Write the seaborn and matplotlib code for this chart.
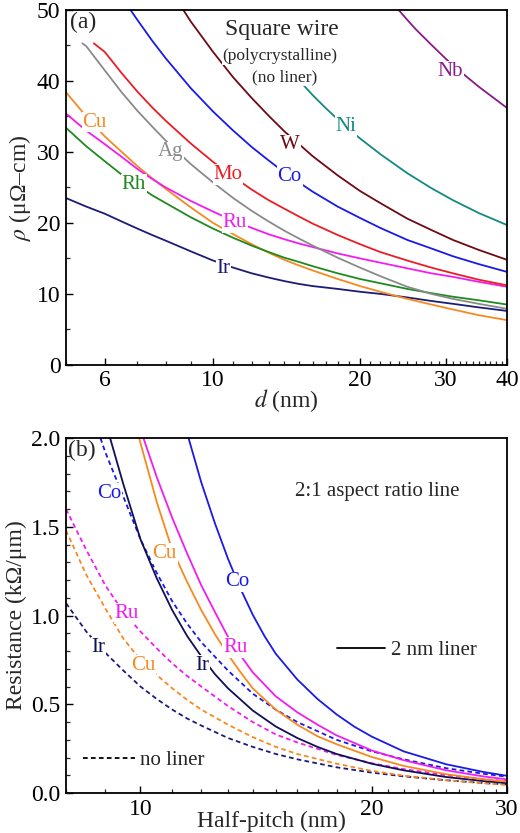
import matplotlib
matplotlib.use('Agg')

import numpy as np
import pandas as pd
import matplotlib.pyplot as plt
import seaborn as sns
from matplotlib.ticker import FixedLocator, MultipleLocator, NullFormatter, FixedFormatter, FormatStrFormatter
from matplotlib.lines import Line2D

sns.set_theme(style="ticks")
plt.rcParams['font.family'] = ['Liberation Serif', 'DejaVu Serif']
plt.rcParams['mathtext.fontset'] = 'stix'
plt.rcParams['xtick.direction'] = 'in'
plt.rcParams['ytick.direction'] = 'in'

# ─────────────────────────────────────────
# (a) 비저항 vs 선폭 d (no liner)
# ─────────────────────────────────────────
d_a = [5, 5.5, 6, 6.5, 7, 7.5, 8, 9, 10, 11, 12, 13, 14, 15, 16, 18, 20, 22, 25, 28, 31, 35, 40]
rho_ir = [23.5, 22.3, 21.3, 20.2, 19.2, 18.3, 17.5, 16.0, 14.7, 13.7, 12.9, 12.3, 11.8, 11.4, 11.1,
          10.7, 10.3, 10.0, 9.5, 9.0, 8.6, 8.1, 7.6]
rho_cu = [38.4, 35.0, 32.2, 30.0, 28.0, 26.3, 24.8, 22.2, 20.0, 18.4, 17.0, 15.8, 14.8, 14.0, 13.3,
          12.1, 11.1, 10.3, 9.3, 8.5, 7.8, 7.0, 6.3]
rho_rh = [33.4, 30.8, 28.7, 26.8, 25.3, 23.9, 22.8, 20.8, 19.2, 17.9, 16.8, 15.9, 15.1, 14.5, 13.9,
          12.9, 12.1, 11.5, 10.7, 10.1, 9.6, 9.1, 8.5]
rho_ru = [35.4, 33.0, 31.1, 29.3, 27.6, 26.2, 25.0, 23.1, 21.6, 20.3, 19.3, 18.4, 17.7, 17.1, 16.6,
          15.7, 15.0, 14.4, 13.6, 12.9, 12.4, 11.7, 11.0]

d_ag = [5.4, 5.5, 6, 6.5, 7, 7.5, 8, 9, 10, 11, 12, 13, 14, 15, 16, 18, 20, 22, 25, 28, 31, 35, 40]
rho_ag = [45.3, 44.9, 41.5, 38.4, 35.8, 33.6, 31.6, 28.3, 25.7, 23.5, 21.7, 20.2, 18.9, 17.8, 16.8,
          15.1, 13.7, 12.5, 11.0, 10.0, 9.3, 8.6, 7.9]

d_mo = [5.7, 6, 6.5, 7, 7.5, 8, 9, 10, 11, 12, 13, 14, 15, 16, 18, 20, 22, 25, 28, 31, 35, 40]
rho_mo = [45.3, 44.1, 41.1, 38.5, 36.3, 34.4, 31.2, 28.6, 26.5, 24.7, 23.2, 22.0, 20.9, 19.9, 18.3,
          17.0, 15.9, 14.7, 13.7, 12.9, 12.0, 11.2]

d_co = [6.7, 7, 7.5, 8, 9, 10, 11, 12, 13, 14, 15, 16, 18, 20, 22, 25, 28, 31, 35, 40]
rho_co = [50.5, 48.6, 45.7, 43.2, 39.0, 35.7, 33.0, 30.7, 28.8, 27.1, 25.7, 24.4, 22.3, 20.7, 19.3,
          17.6, 16.4, 15.3, 14.2, 13.1]

d_w = [8.6, 9, 10, 11, 12, 13, 14, 15, 16, 18, 20, 22, 25, 28, 31, 35, 40]
rho_w = [50.5, 48.4, 44.1, 40.5, 37.6, 35.1, 32.9, 31.1, 29.4, 26.7, 24.5, 22.8, 20.6, 19.0, 17.6,
         16.2, 14.8]

d_ni = [15, 16, 17, 18, 20, 22, 25, 28, 31, 35, 40]
rho_ni = [40.1, 38.0, 36.2, 34.6, 31.9, 29.7, 27.0, 24.9, 23.2, 21.4, 19.7]

d_nb = [24, 25, 26, 28, 30, 32, 35, 40]
rho_nb = [50.0, 48.6, 47.3, 45.1, 43.1, 41.4, 39.2, 36.2]

# ─────────────────────────────────────────
# (b) 저항 vs half-pitch (2:1 aspect ratio)
# ─────────────────────────────────────────
hp = [8, 8.5, 9, 9.5, 10, 10.5, 11, 11.5, 12, 13, 14, 15, 16, 18, 20, 22, 25, 28, 30]
r_ir_nl = [1.07, 0.91, 0.79, 0.69, 0.60, 0.53, 0.47, 0.42, 0.38, 0.31, 0.26, 0.22, 0.19, 0.145,
           0.115, 0.094, 0.072, 0.056, 0.048]
r_cu_nl = [1.48, 1.23, 1.04, 0.87, 0.75, 0.665, 0.59, 0.525, 0.47, 0.385, 0.315, 0.26, 0.22, 0.165,
           0.125, 0.098, 0.072, 0.055, 0.046]
r_ru_nl = [1.60, 1.37, 1.17, 1.02, 0.91, 0.815, 0.73, 0.66, 0.60, 0.49, 0.40, 0.33, 0.285, 0.215,
           0.168, 0.135, 0.10, 0.078, 0.067]

hp_co_nl = [8.87, 9, 9.5, 10, 10.5, 11, 11.5, 12, 13, 14, 15, 16, 18, 20, 22, 25, 28, 30]
r_co_nl = [2.0, 1.92, 1.67, 1.43, 1.24, 1.08, 0.955, 0.85, 0.69, 0.56, 0.47, 0.40, 0.30, 0.235, 0.19,
           0.14, 0.108, 0.092]

hp_ir_l = [9.13, 9.5, 10, 10.5, 11, 11.5, 12, 12.5, 13, 14, 15, 16, 17, 18, 20, 22, 25, 28, 30]
r_ir_l = [2.0, 1.74, 1.43, 1.21, 1.03, 0.885, 0.77, 0.67, 0.59, 0.465, 0.375, 0.31, 0.26, 0.22,
          0.165, 0.128, 0.09, 0.067, 0.056]

hp_cu_l = [9.96, 10.5, 11, 11.5, 12, 12.5, 13, 13.5, 14, 15, 16, 17, 18, 20, 22, 25, 28, 30]
r_cu_l = [2.0, 1.64, 1.37, 1.19, 1.03, 0.895, 0.78, 0.68, 0.59, 0.47, 0.385, 0.32, 0.275, 0.203,
          0.153, 0.106, 0.077, 0.064]

hp_ru_l = [10.09, 10.5, 11, 11.5, 12, 12.5, 13, 13.5, 14, 15, 16, 17, 18, 20, 22, 25, 28, 30]
r_ru_l = [2.0, 1.78, 1.55, 1.35, 1.17, 1.02, 0.88, 0.775, 0.68, 0.545, 0.455, 0.385, 0.325, 0.24,
          0.185, 0.128, 0.093, 0.077]

hp_co_l = [11.55, 12, 12.5, 13, 13.5, 14, 14.5, 15, 16, 17, 18, 19, 20, 22, 25, 28, 30]
r_co_l = [2.0, 1.75, 1.52, 1.32, 1.15, 1.005, 0.885, 0.785, 0.64, 0.53, 0.443, 0.373, 0.318, 0.235,
          0.162, 0.118, 0.097]

# 색상
C_IR = '#1c1c78'
C_IR2 = '#101058'
C_CU = '#f7891f'
C_RH = '#1f8a1f'
C_RU = '#f21cf2'
C_AG = '#8a8a8a'
C_MO = '#ec1c24'
C_CO = '#1a1ae6'
C_W = '#6e0a14'
C_NI = '#128a80'
C_NB = '#8a1a8a'

LW = 1.3
DASH = (0, (2.6, 1.8))
LBL = 15
TICK = 17

fig = plt.figure(figsize=(5.2, 8.33), dpi=100)
ax1 = fig.add_axes([0.127, 0.562, 0.848, 0.426])
ax2 = fig.add_axes([0.127, 0.048, 0.848, 0.426])

# ── panel (a) ──
series_a = [
    (d_a, rho_ir, C_IR), (d_a, rho_cu, C_CU), (d_a, rho_rh, C_RH), (d_a, rho_ru, C_RU),
    (d_ag, rho_ag, C_AG), (d_mo, rho_mo, C_MO), (d_co, rho_co, C_CO), (d_w, rho_w, C_W),
    (d_ni, rho_ni, C_NI), (d_nb, rho_nb, C_NB),
]
for xs, ys, c in series_a:
    sns.lineplot(x=xs, y=ys, ax=ax1, color=c, lw=LW, legend=False)

ax1.set_xscale('log')
ax1.set_xlim(5, 40)
ax1.set_ylim(0, 50)

labels_a = [
    ("Cu", 5.72, 34.2, C_CU), ("Ag", 8.17, 30.0, C_AG), ("Rh", 6.88, 25.4, C_RH),
    ("Mo", 10.74, 26.8, C_MO), ("Co", 14.35, 26.6, C_CO), ("Ru", 11.09, 20.1, C_RU),
    ("Ir", 10.5, 13.6, C_IR), ("W", 14.4, 31.0, C_W), ("Ni", 18.74, 33.6, C_NI),
    ("Nb", 30.6, 41.3, C_NB),
]
for txt, x, y, c in labels_a:
    ax1.text(x, y, txt, color=c, fontsize=LBL, ha='center', va='center',
             bbox=dict(facecolor='white', edgecolor='none', pad=0.6))

ax1.text(0.009, 0.995, "(a)", transform=ax1.transAxes, fontsize=17, ha='left', va='top')
ax1.text(0.49, 0.945, "Square wire", transform=ax1.transAxes, fontsize=17,
         ha='center', va='center', bbox=dict(facecolor='white', edgecolor='none', pad=0.5))
ax1.text(0.485, 0.87, "(polycrystalline)", transform=ax1.transAxes, fontsize=12.5,
         ha='center', va='center', bbox=dict(facecolor='white', edgecolor='none', pad=0.5))
ax1.text(0.495, 0.81, "(no liner)", transform=ax1.transAxes, fontsize=12.5,
         ha='center', va='center', bbox=dict(facecolor='white', edgecolor='none', pad=0.5))

ax1.xaxis.set_major_locator(FixedLocator([6, 10, 20, 30, 40]))
ax1.xaxis.set_major_formatter(FixedFormatter(["6", "10", "20", "30", "40"]))
ax1.xaxis.set_minor_locator(FixedLocator([5, 7, 8, 9] + list(range(11, 20)) + list(range(21, 30)) + list(range(31, 40))))
ax1.xaxis.set_minor_formatter(NullFormatter())
ax1.yaxis.set_major_locator(MultipleLocator(10))
ax1.yaxis.set_minor_locator(MultipleLocator(5))
ax1.set_xlabel(r"$d$ (nm)", fontsize=TICK, labelpad=-3)
ax1.set_ylabel(r"$\rho$ (μΩ–cm)", fontsize=TICK, labelpad=3)

# ── panel (b) ──
series_b = [
    (hp, r_ir_nl, C_IR, DASH), (hp, r_cu_nl, C_CU, DASH), (hp, r_ru_nl, C_RU, DASH),
    (hp_co_nl, r_co_nl, C_CO, DASH),
    (hp_ir_l, r_ir_l, C_IR2, '-'), (hp_cu_l, r_cu_l, C_CU, '-'),
    (hp_ru_l, r_ru_l, C_RU, '-'), (hp_co_l, r_co_l, C_CO, '-'),
]
for xs, ys, c, ls in series_b:
    sns.lineplot(x=xs, y=ys, ax=ax2, color=c, lw=LW, linestyle=ls, legend=False)

ax2.set_xscale('log')
ax2.set_xlim(8, 30)
ax2.set_ylim(0, 2.0)

labels_b = [
    ("Co", 9.10, 1.69, C_CO), ("Cu", 10.75, 1.35, C_CU), ("Co", 13.38, 1.19, C_CO),
    ("Ru", 9.60, 1.01, C_RU), ("Ru", 13.29, 0.82, C_RU), ("Ir", 8.82, 0.82, C_IR2),
    ("Cu", 10.09, 0.72, C_CU), ("Ir", 12.04, 0.72, C_IR2),
]
for txt, x, y, c in labels_b:
    ax2.text(x, y, txt, color=c, fontsize=LBL, ha='center', va='center',
             bbox=dict(facecolor='white', edgecolor='none', pad=0.6))

ax2.text(0.005, 0.995, "(b)", transform=ax2.transAxes, fontsize=17, ha='left', va='top')
ax2.text(0.705, 0.849, "2:1 aspect ratio line", transform=ax2.transAxes, fontsize=15,
         ha='center', va='center')

leg1 = ax2.legend(handles=[Line2D([], [], color='black', lw=LW)], labels=["2 nm liner"],
                  loc='center left', bbox_to_anchor=(0.6145, 0.403), frameon=False,
                  fontsize=15, handlelength=2.3, handletextpad=0.3, borderaxespad=0, borderpad=0)
ax2.add_artist(leg1)
ax2.legend(handles=[Line2D([], [], color='black', lw=LW, linestyle=DASH)], labels=["no liner"],
           loc='center left', bbox_to_anchor=(0.0385, 0.093), frameon=False,
           fontsize=15, handlelength=2.5, handletextpad=0.25, borderaxespad=0, borderpad=0)

ax2.xaxis.set_major_locator(FixedLocator([10, 20, 30]))
ax2.xaxis.set_major_formatter(FixedFormatter(["10", "20", "30"]))
ax2.xaxis.set_minor_locator(FixedLocator([8, 9] + list(range(11, 20)) + list(range(21, 30))))
ax2.xaxis.set_minor_formatter(NullFormatter())
ax2.yaxis.set_major_locator(MultipleLocator(0.5))
ax2.yaxis.set_minor_locator(MultipleLocator(0.1))
ax2.yaxis.set_major_formatter(FormatStrFormatter('%.1f'))
ax2.set_xlabel("Half-pitch (nm)", fontsize=TICK)
ax2.xaxis.set_label_coords(0.465, -0.05)
ax2.set_ylabel("Resistance (kΩ/μm)", fontsize=TICK, labelpad=3)

for ax in (ax1, ax2):
    for s in ax.spines.values():
        s.set_linewidth(1.3)
        s.set_color('black')
    ax.tick_params(which='major', length=5, width=1.0, labelsize=TICK, colors='black', pad=4)
    ax.tick_params(which='minor', length=3, width=0.9)
    ax.tick_params(axis='both', which='both', top=False, right=False)

fig.savefig("out.png", dpi=100)
